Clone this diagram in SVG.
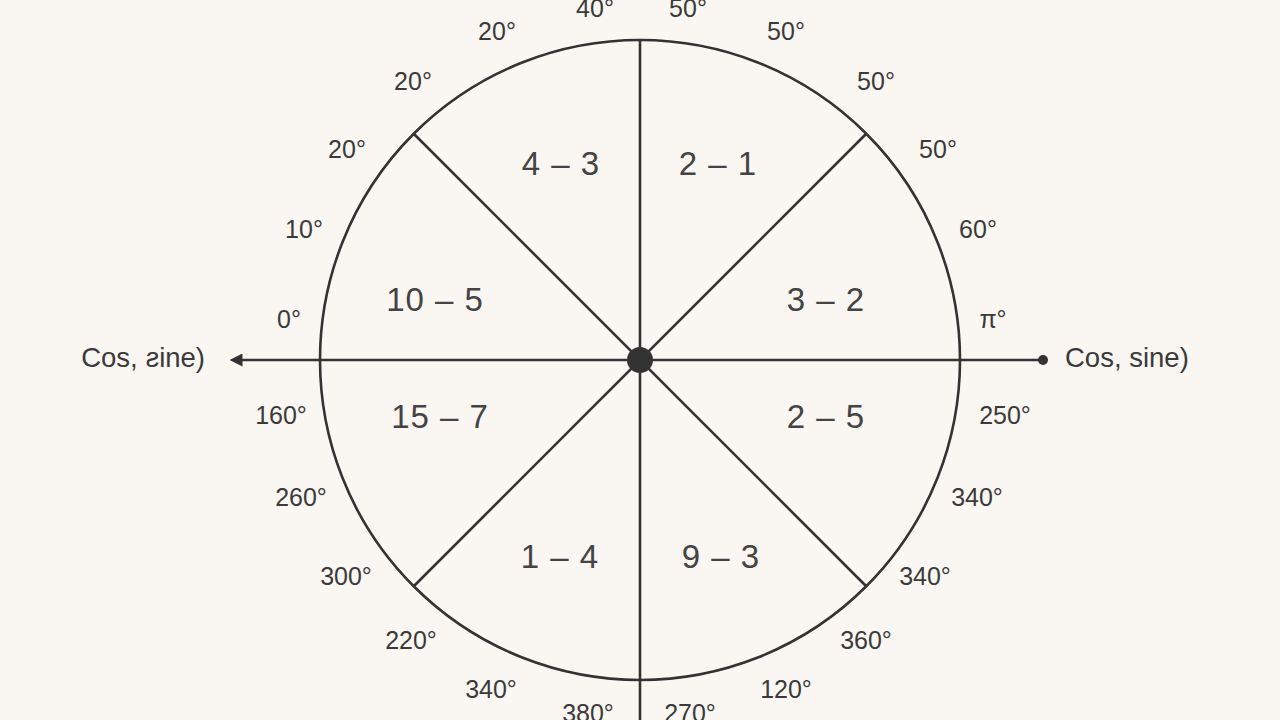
<svg xmlns="http://www.w3.org/2000/svg" width="1280" height="720" viewBox="0 0 1280 720">
<defs>
<style>
.ln{stroke:#333;stroke-width:2.6;fill:none}
.deg{font-family:"Liberation Sans",Arial,sans-serif;font-size:25px;fill:#3a3a3a;text-anchor:middle;dominant-baseline:central}
.sec{font-family:"Liberation Sans",Arial,sans-serif;font-size:33px;fill:#444;text-anchor:middle;dominant-baseline:central;letter-spacing:1px}
.ax{font-family:"Liberation Sans",Arial,sans-serif;font-size:27.5px;fill:#3a3a3a;dominant-baseline:central}
</style>
<marker id="arr" viewBox="0 0 10 10" refX="5" refY="5" markerWidth="5" markerHeight="5" orient="auto-start-reverse" markerUnits="strokeWidth">
<path d="M0,0 L10,5 L0,10 Z" fill="#333"/>
</marker>
</defs>
<rect width="1280" height="720" fill="#faf6f2"/>
<g id="connectors">
<line class="ln" x1="236" y1="360" x2="1043" y2="360" marker-start="url(#arr)"/>
<line class="ln" x1="640" y1="40" x2="640" y2="720"/>
<line class="ln" x1="414" y1="134" x2="866" y2="586"/>
<line class="ln" x1="866" y1="134" x2="414" y2="586"/>
<circle cx="1043" cy="360" r="5" fill="#333"/>
</g>
<g id="circle">
<circle class="ln" cx="640" cy="360" r="320" stroke-width="3"/>
<circle cx="640" cy="360" r="13" fill="#333"/>
</g>
<g id="sectors">
<text class="sec" x="561" y="163">4 – 3</text>
<text class="sec" x="718" y="163">2 – 1</text>
<text class="sec" x="435" y="299">10 – 5</text>
<text class="sec" x="826" y="299">3 – 2</text>
<text class="sec" x="440" y="416">15 – 7</text>
<text class="sec" x="826" y="416">2 – 5</text>
<text class="sec" x="560" y="556">1 – 4</text>
<text class="sec" x="721" y="556">9 – 3</text>
</g>
<g id="axis-labels">
<text class="ax" x="205" y="357" text-anchor="end">Cos, ƨine)</text>
<text class="ax" x="1065" y="357">Cos, sine)</text>
</g>
<g id="degrees">
<text class="deg" x="595" y="8">40°</text>
<text class="deg" x="688" y="8">50°</text>
<text class="deg" x="497" y="31">20°</text>
<text class="deg" x="786" y="31">50°</text>
<text class="deg" x="413" y="81">20°</text>
<text class="deg" x="876" y="81">50°</text>
<text class="deg" x="347" y="149">20°</text>
<text class="deg" x="938" y="149">50°</text>
<text class="deg" x="304" y="229">10°</text>
<text class="deg" x="978" y="229">60°</text>
<text class="deg" x="289" y="319">0°</text>
<text class="deg" x="993" y="319">π°</text>
<text class="deg" x="281" y="415">160°</text>
<text class="deg" x="1005" y="415">250°</text>
<text class="deg" x="301" y="497">260°</text>
<text class="deg" x="977" y="497">340°</text>
<text class="deg" x="346" y="576">300°</text>
<text class="deg" x="925" y="576">340°</text>
<text class="deg" x="411" y="640">220°</text>
<text class="deg" x="866" y="640">360°</text>
<text class="deg" x="491" y="689">340°</text>
<text class="deg" x="786" y="689">120°</text>
<text class="deg" x="588" y="713">380°</text>
<text class="deg" x="690" y="713">270°</text>
</g>
</svg>
